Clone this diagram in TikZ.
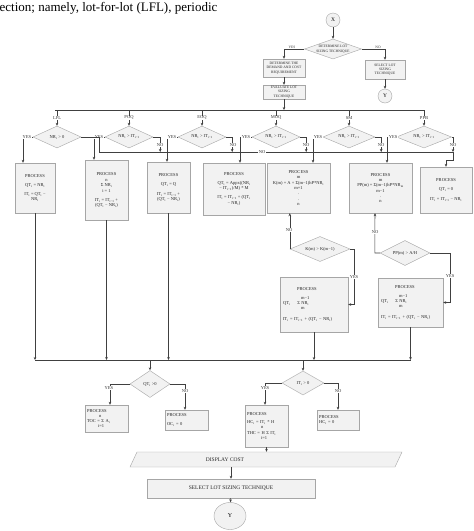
\documentclass[tikz,border=0pt]{standalone}
\usepackage{fontspec}
\setmainfont{Liberation Serif}
\usetikzlibrary{shapes.geometric,arrows.meta}
\newcommand{\tinyfs}{\fontsize{4.5}{5.3}\selectfont}
\newcommand{\topfs}{\fontsize{3.6}{4.2}\selectfont}
\newcommand{\sbs}[1]{\textsubscript{#1}}
\begin{document}
\begin{tikzpicture}[x=1pt,y=-1pt,
  ln/.style={draw=black!75, line width=0.55pt},
  arr/.style={ln, -{Stealth[length=3pt,width=2.6pt]}},
  pbox/.style={draw=black!35, fill=black!5, line width=0.4pt, inner sep=1pt, align=center, font=\tinyfs, text=black!85},
  tbox/.style={pbox, font=\topfs},
  dia/.style={diamond, aspect=2.2, draw=black!35, fill=black!5, line width=0.4pt, inner sep=0pt, align=center, font=\tinyfs, text=black!85},
  term/.style={ellipse, draw=black!35, fill=black!5, line width=0.4pt, inner sep=0pt, font=\fontsize{5.5}{6}\selectfont},
  lab/.style={font=\tinyfs, fill=white, inner sep=0.3pt, text=black!80},
  tlab/.style={font=\topfs, fill=white, inner sep=0.3pt, text=black!80},
]
\useasboundingbox (0,0) rectangle (474,531);
\fill[white] (0,0) rectangle (474,531);

\node[anchor=west, font=\fontsize{13}{15}\selectfont, inner sep=0pt] (head) at (-0.5,8) {ection; namely, lot-for-lot (LFL), periodic};

% ---------- top part
\node[term, minimum width=14pt, minimum height=14pt] (X) at (333,20) {X};
\node[dia, aspect=2.8, font=\topfs, minimum width=57pt, minimum height=20pt] (D0) at (333,49) {DETERMINE LOT\\SIZING TECHNIQUE};
\node[tbox, minimum width=42pt, minimum height=18pt] (B0a) at (284,68) {DETERMINE THE\\DEMAND AND COST\\REQUIREMENT};
\node[tbox, minimum width=42pt, minimum height=14pt] (B0b) at (284,92) {EVALUATE LOT\\SIZING\\TECHNIQUE};
\node[tbox, minimum width=40pt, minimum height=19pt] (B0c) at (385,69.5) {SELECT LOT\\SIZING\\TECHNIQUE};
\node[term, minimum width=14pt, minimum height=14pt] (Y1) at (385,96) {Y};

\draw[arr] (X) -- (D0);
\draw[arr] (D0.west) -| (B0a.north);
\draw[arr] (D0.east) -| (B0c.north);
\node[tlab] (lyes0) at (292,47) {YES};
\node[tlab] (lno0) at (378,47) {NO};
\draw[arr] (B0a) -- (B0b);
\draw[arr] (B0c) -- (Y1);

% ---------- bus
\coordinate (busL) at (55,110);
\coordinate (busR) at (424,110);
\draw[ln] (busL) -- (busR);
\draw[arr] (B0b.south) -- (B0b.south |- busL);

% ---------- diamonds row
\node[dia, minimum width=48pt, minimum height=22pt] (d1) at (57,137) {NR\sbs{i} {\textgreater} 0};
\node[dia, minimum width=48pt, minimum height=22pt] (d2) at (129,137) {NR\sbs{i} {\textgreater} IT\sbs{i−1}};
\node[dia, minimum width=48pt, minimum height=22pt] (d3) at (202,137) {NR\sbs{i} {\textgreater} IT\sbs{i−1}};
\node[dia, minimum width=48pt, minimum height=22pt] (d4) at (276,137) {NR\sbs{i} {\textgreater} IT\sbs{i−1}};
\node[dia, minimum width=52pt, minimum height=22pt] (d5) at (349,137) {NR\sbs{i} {\textgreater} IT\sbs{i−1}};
\node[dia, minimum width=55pt, minimum height=22pt] (d6) at (424,137) {NR\sbs{i} {\textgreater} IT\sbs{i−1}};

\foreach \d/\t in {d1/LFL,d2/POQ,d3/EOQ,d4/MOQ,d5/SM,d6/PPB}{
  \draw[arr] (\d.north |- busL) -- (\d.north);
  \node[lab] (lab\d) at ([yshift=8pt]\d.north) {\t};
}

% ---------- process boxes row
\node[pbox, minimum width=40pt, minimum height=50pt] (box1) at (35,188)
  {PROCESS\\[4pt]QT\sbs{i} = NR\sbs{i}\\[4pt]IT\sbs{i} = QT\sbs{i} −\\NR\sbs{i}};
\node[pbox, minimum width=43pt, minimum height=60pt] (box2) at (106.5,190)
  {PROCESS\\[1pt]n\\Σ NR\sbs{i}\\i = 1\\[4pt]IT\sbs{i} = IT\sbs{i−1} +\\(QT\sbs{i} − NR\sbs{i})};
\node[pbox, minimum width=43pt, minimum height=51pt] (box3) at (168.5,187.5)
  {PROCESS\\[4pt]QT\sbs{i} = Q\\[4pt]IT\sbs{i} = IT\sbs{i−1} +\\(QT\sbs{i} − NR\sbs{i})};
\node[pbox, minimum width=62pt, minimum height=52pt] (box4) at (234,189)
  {PROCESS\\[3pt]QT\sbs{i} = Appx((NR\sbs{i}\\− IT\sbs{i−1})/M) * M\\[4pt]IT\sbs{i} = IT\sbs{i−1} + (QT\sbs{i}\\− NR\sbs{i})};
\node[pbox, minimum width=63pt, minimum height=50pt] (box5) at (298.5,188)
  {PROCESS\\m\\K(m) = A + Σ(m−1)hP*NR\sbs{i}\\m=1\\.\\.\\n};
\node[pbox, minimum width=63pt, minimum height=50pt] (box6) at (380.5,188)
  {PROCESS\\m\\PP(m) = Σ(m−1)hP*NR\sbs{m}\\m−1\\.\\n};
\node[pbox, minimum width=52pt, minimum height=46pt] (box7) at (446,190)
  {PROCESS\\[4pt]QT\sbs{i} = 0\\[4pt]IT\sbs{i} = IT\sbs{i−1} − NR\sbs{i}};

% YES branches
\draw[arr] (d1.west) -| ([xshift=-12pt]box1.north);
\draw[arr] (d2.west) -| ([xshift=-12.5pt]box2.north);
\draw[arr] (d3.west) -| ([xshift=-1.5pt]box3.north);
\draw[arr] (d4.west) -| ([xshift=6pt]box4.north);
\draw[arr] (d5.west) -| ([xshift=14.5pt]box5.north);
\draw[arr] (d6.west) -| ([xshift=6.5pt]box6.north);
\node[lab] (y1) at (27,137) {YES};
\node[lab] (y2) at (99,137) {YES};
\node[lab] (y3) at (172,137) {YES};
\node[lab] (y4) at (246,137) {YES};
\node[lab] (y5) at (318,137) {YES};
\node[lab] (y6) at (393,137) {YES};

% NO branches to collector line
\coordinate (L0) at (99,152);
\coordinate (L1) at (453,152);
\draw[ln] (d1.east) -| (L0);
\draw[arr] (d2.east) -- ++(7,0) -- ++(0,15);
\draw[arr] (d3.east) -- ++(6,0) -- ++(0,15);
\draw[arr] (d4.east) -- ++(6,0) -- ++(0,15);
\draw[arr] (d5.east) -- ++(6,0) -- ++(0,15);
\draw[arr] (d6.east) -| (L1);
\draw[ln] (L0) -- (L1);
\draw[arr] (L1) -- ++(0,8) -| (box7.north);
\node[lab] (n2) at (160,145) {NO};
\node[lab] (n3) at (233,145) {NO};
\node[lab] (n4) at (306,145) {NO};
\node[lab] (n5) at (381,145) {NO};
\node[lab] (n6) at (453,145) {NO};
\node[lab] (nL) at (262,152) {NO};

% ---------- second level
\node[dia, aspect=2.4, minimum width=60pt, minimum height=25pt] (dK) at (320,249) {K(m) {\textgreater} K(m−1)};
\node[dia, aspect=2.2, minimum width=50pt, minimum height=25pt] (dP) at (405,253) {PP(m) {\textgreater} A/H};
\node[pbox, text width=62pt, align=left, inner sep=3pt, minimum height=55pt] (box5b) at (314,304.5)
  {\hspace{14pt}PROCESS\\[3pt]\hspace{18pt}m−1\\QT\sbs{i}\hspace{7pt}Σ NR\sbs{i}\\\hspace{18pt}m\\[5pt]IT\sbs{i} = IT\sbs{i−1} + (QT\sbs{i} − NR\sbs{i})};
\node[pbox, text width=59pt, align=left, inner sep=3pt, minimum height=49pt] (box6b) at (410.5,302.5)
  {\hspace{14pt}PROCESS\\[3pt]\hspace{18pt}m−1\\QT\sbs{i}\hspace{7pt}Σ NR\sbs{i}\\\hspace{18pt}m\\[5pt]IT\sbs{i} = IT\sbs{i−1} + (QT\sbs{i} − NR\sbs{i})};

\draw[arr] (dK.west) -- (dK.west |- box5.south);
\draw[arr] (dK.east) -- ++(4,0) |- (box5b.east);
\draw[arr] (dP.west) -- ++(-5,0) -- ([xshift=-5.5pt]box6.south);
\draw[arr] (dP.east) -- ++(20,0) |- (box6b.east);
\node[lab] (nk) at (289,230) {NO};
\node[lab] (yk) at (354,277) {YES};
\node[lab] (np) at (375,232) {NO};
\node[lab] (yp) at (450,276) {YES};

% ---------- collector line 2
\coordinate (C0) at (35,360);
\coordinate (C1) at (410.5,360);
\draw[ln] (C0) -- (C1);
\draw[arr] (box1.south) -- (box1.south |- C0);
\draw[arr] (box2.south) -- (box2.south |- C0);
\draw[arr] (box3.south) -- (box3.south |- C0);
\draw[arr] (box5b.south) -- (box5b.south |- C0);
\draw[arr] (box6b.south) -- (box6b.south |- C0);

% ---------- cost part
\node[dia, aspect=1.6, minimum width=40pt, minimum height=27pt] (dQ) at (150,384) {QT\sbs{i} {\textgreater}0};
\node[dia, aspect=1.8, minimum width=42pt, minimum height=24pt] (dI) at (303,383) {IT\sbs{i} {\textgreater} 0};
\draw[arr] (dQ.north |- C0) -- (dQ.north);
\draw[arr] (dI.north |- C0) -- (dI.north);

\node[pbox, text width=39pt, align=left, inner sep=2pt, minimum height=27pt] (boxTOC) at (106.5,418.5)
  {PROCESS\\\hspace{12pt}n\\TOC = Σ A\sbs{i}\\\hspace{11pt}i=1};
\node[pbox, text width=39pt, align=left, inner sep=2pt, minimum height=20pt] (boxOC) at (186.5,420)
  {PROCESS\\[3pt]OC\sbs{i} = 0};
\node[pbox, text width=39pt, align=left, inner sep=2pt, minimum height=42pt] (boxHC) at (266.5,426)
  {PROCESS\\[3pt]HC\sbs{i} = IT\sbs{i} * H\\\hspace{14pt}n\\THC = H Σ IT\sbs{i}\\\hspace{14pt}i=1};
\node[pbox, text width=38pt, align=left, inner sep=2pt, minimum height=20pt] (boxH0) at (338,420)
  {PROCESS\\HC\sbs{i} = 0};

\draw[arr] (dQ.west) -| ([xshift=3.5pt]boxTOC.north);
\draw[arr] (dQ.east) -| ([xshift=-1.5pt]boxOC.north);
\draw[arr] (dI.west) -| ([xshift=-1.5pt]boxHC.north);
\draw[arr] (dI.east) -| (boxH0.north);
\node[lab] (yq) at (109,388) {YES};
\node[lab] (nq) at (185,391) {NO};
\node[lab] (yi) at (265,388) {YES};
\node[lab] (ni) at (338,391) {NO};

% ---------- display / select / Y
\node[inner sep=0pt, minimum width=265pt, minimum height=15pt] (disp) at (266,459.5) {};
\draw[draw=black!35, fill=black!5, line width=0.4pt] (130,467) -- (137,452) -- (402,452) -- (395,467) -- cycle;
\node[font=\fontsize{5.5}{6}\selectfont, text=black!85, inner sep=0pt] (disptext) at (225,460) {DISPLAY COST};
\node[pbox, font=\fontsize{5.5}{6}\selectfont, minimum width=168pt, minimum height=19pt] (select) at (231,488.5) {SELECT LOT SIZING TECHNIQUE};
\node[term, minimum width=32pt, minimum height=27pt, font=\fontsize{6}{7}\selectfont] (Y2) at (230,516) {Y};

\draw[arr] (boxHC.south) -- (boxHC.south |- disp.north);
\draw[arr] (select.north |- disp.south) -- (select.north);
\draw[arr] (select) -- (Y2);
\end{tikzpicture}
\end{document}
